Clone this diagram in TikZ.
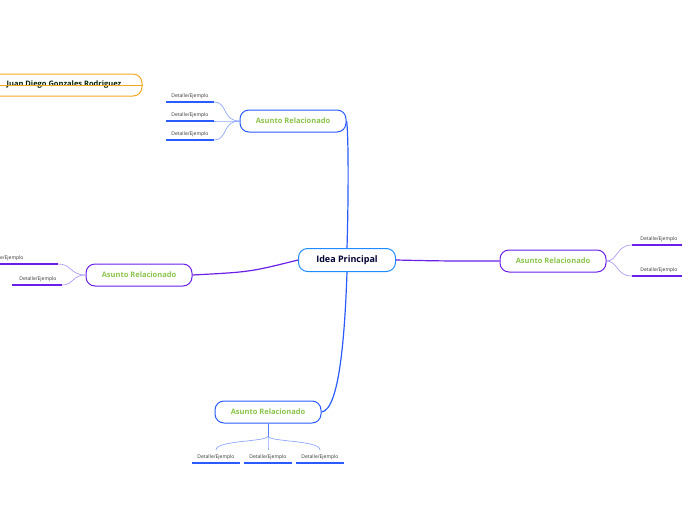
\documentclass[tikz,border=0pt]{standalone}
\usepackage{fontspec}
\setmainfont{Open Sans}
\begin{document}
\begin{tikzpicture}[x=1pt,y=-1pt,
  box/.style={draw,rounded corners=9pt,line width=1pt,minimum height=22pt,inner sep=0pt},
  sub/.style={box,minimum width=106pt,text=green!55!black!60!lime,font=\fontsize{7.5}{9}\selectfont\bfseries},
  det/.style={font=\fontsize{5}{6}\selectfont,text=black!80,inner sep=0pt},
  ul/.style={line width=1.3pt},
  br/.style={line width=0.7pt}]
\definecolor{cblue}{HTML}{2A5BFF}
\definecolor{cpur}{HTML}{6A1FE6}
\definecolor{lblue}{HTML}{8FA8FF}
\definecolor{lpur}{HTML}{B39AF5}
\definecolor{corange}{HTML}{F5A623}
\definecolor{gtext}{HTML}{8BC34A}
\useasboundingbox (0,0) rectangle (696,520);
% title
\node[box,draw=corange,minimum width=156pt,minimum height=22pt,font=\fontsize{7.5}{9}\selectfont\bfseries,text=black!70!green!40!black] (title) at (64,85) {Juan Diego Gonzales Rodriguez};
\draw[corange,line width=0.8pt] (title.west) -- (title.east);
% main
\node[box,draw=cblue!70!cyan,minimum width=97pt,minimum height=23pt,font=\fontsize{9}{11}\selectfont\bfseries,text=black!80!blue] (main) at (347,260) {Idea Principal};
% subs
\node[sub,draw=cblue,text=gtext] (top) at (293,121) {Asunto Relacionado};
\node[sub,draw=cpur,text=gtext] (right) at (553,261) {Asunto Relacionado};
\node[sub,draw=cpur,text=gtext] (left) at (139,275) {Asunto Relacionado};
\node[sub,draw=cblue,text=gtext] (bot) at (268,412) {Asunto Relacionado};
% main connectors
\draw[cblue,line width=1.2pt] (main.north) .. controls (349,180) and (348,125) .. (top.east);
\draw[cpur,line width=1.2pt] (main.east) .. controls (440,261) .. (right.west);
\draw[cpur,line width=1.2pt] (main.west) .. controls (250,272) .. (left.east);
\draw[cblue,line width=1.2pt] (main.south) .. controls (345,330) and (340,410) .. (bot.east);
% top details
\foreach \i/\y in {1/102,2/121,3/140}{
  \coordinate (ta\i) at (166,\y); \coordinate (tb\i) at (214,\y);
  \node[det,anchor=south] (td\i) at (190,\y-3) {Detalle/Ejemplo};
  \draw[cblue,ul] (ta\i) -- (tb\i);
  \draw[lblue,br] (tb\i) .. controls (228,\y) and (222,121) .. (top.west);
}
% right details
\foreach \i/\y in {1/245,2/276}{
  \coordinate (ra\i) at (632,\y); \coordinate (rb\i) at (682,\y);
  \node[det,anchor=south] (rd\i) at (659,\y-3) {Detalle/Ejemplo};
  \draw[cpur,ul] (ra\i) -- (rb\i);
  \draw[lpur,br] (right.east) .. controls (618,261) and (616,\y) .. (ra\i);
}
% left details
\coordinate (la1) at (0,264); \coordinate (lb1) at (58,264);
\node[det,anchor=south] (ld1) at (5,261) {Detalle/Ejemplo};
\draw[cpur,ul] (la1) -- (lb1);
\draw[lpur,br] (lb1) .. controls (72,264) and (70,275) .. (left.west);
\coordinate (la2) at (12,285); \coordinate (lb2) at (62,285);
\node[det,anchor=south] (ld2) at (38,282) {Detalle/Ejemplo};
\draw[cpur,ul] (la2) -- (lb2);
\draw[lpur,br] (lb2) .. controls (74,285) and (72,275) .. (left.west);
% bottom details
\coordinate (bj) at (268,436);
\draw[cblue!80,line width=1pt] (bot.south) -- (bj);
\foreach \i/\x in {1/216,2/268,3/320}{
  \coordinate (ba\i) at (\x-24,463); \coordinate (bb\i) at (\x+24,463);
  \node[det,anchor=south] (bd\i) at (\x,460) {Detalle/Ejemplo};
  \draw[cblue,ul] (ba\i) -- (bb\i);
  \draw[lblue,br] (bj) .. controls (268,442) and (\x,440) .. (\x,450);
}
\end{tikzpicture}
\end{document}
